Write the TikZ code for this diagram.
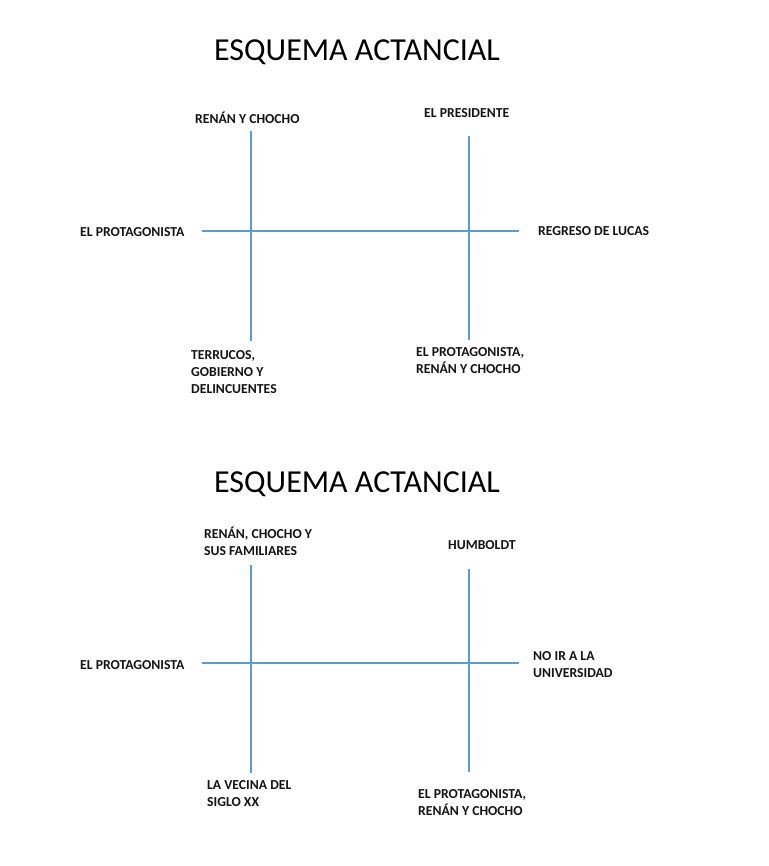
\documentclass[tikz,border=0pt]{standalone}
\usepackage{fontspec}
\setmainfont{Carlito}
\begin{document}
\begin{tikzpicture}[x=1pt,y=-1pt,
  ln/.style={draw={rgb,255:red,91;green,155;blue,213},line width=1.2pt},
  lab/.style={anchor=base west,inner sep=0,align=left,font=\fontsize{13.7}{17}\selectfont\bfseries,text={rgb,255:red,20;green,20;blue,20}},
  ttl/.style={inner sep=0,font=\fontsize{32}{36}\selectfont}]
\useasboundingbox[fill=white] (0,0) rectangle (768,866);
% diagram 1
\node[ttl] (t1) at (357,52) {ESQUEMA ACTANCIAL};
\coordinate (a1) at (251,131); \coordinate (a2) at (251,341);
\coordinate (b1) at (469,136); \coordinate (b2) at (469,340);
\coordinate (h1) at (202,231); \coordinate (h2) at (519,231);
\draw[ln] (a1)--(a2); \draw[ln] (b1)--(b2); \draw[ln] (h1)--(h2);
\node[lab] (l1) at (195,123.5) {RENÁN Y CHOCHO};
\node[lab] (l2) at (424,117.5) {EL PRESIDENTE};
\node[lab] (l3) at (80,236.5) {EL PROTAGONISTA};
\node[lab] (l4) at (538,235.5) {REGRESO DE LUCAS};
\node[lab] (l5) at (191,393.5) {TERRUCOS,\\GOBIERNO Y\\DELINCUENTES};
\node[lab] (l6) at (416,373.5) {EL PROTAGONISTA,\\RENÁN Y CHOCHO};
% diagram 2
\node[ttl] (t2) at (357,484) {ESQUEMA ACTANCIAL};
\coordinate (c1) at (251,565); \coordinate (c2) at (251,773);
\coordinate (d1) at (469,569); \coordinate (d2) at (469,772);
\coordinate (k1) at (202,663); \coordinate (k2) at (519,663);
\draw[ln] (c1)--(c2); \draw[ln] (d1)--(d2); \draw[ln] (k1)--(k2);
\node[lab] (m1) at (204,555.5) {RENÁN, CHOCHO Y\\SUS FAMILIARES};
\node[lab] (m2) at (448,549.5) {HUMBOLDT};
\node[lab] (m3) at (80,669.5) {EL PROTAGONISTA};
\node[lab] (m4) at (533,677.5) {NO IR A LA\\UNIVERSIDAD};
\node[lab] (m5) at (207,806.5) {LA VECINA DEL\\SIGLO XX};
\node[lab] (m6) at (418,815.5) {EL PROTAGONISTA,\\RENÁN Y CHOCHO};
\end{tikzpicture}
\end{document}
